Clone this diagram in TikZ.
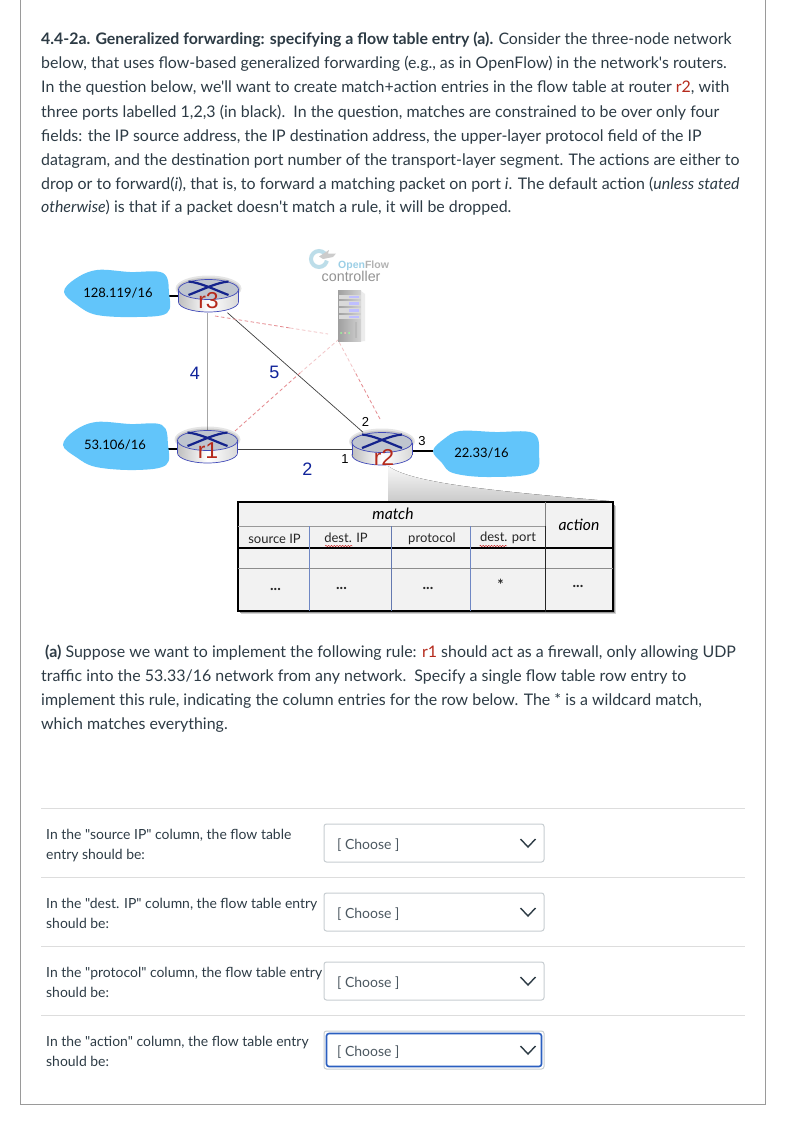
\documentclass[tikz,border=0pt]{standalone}
\usepackage{fontspec}
\newfontfamily\lato{Lato}
\newfontfamily\arial{Liberation Sans}
\usetikzlibrary{backgrounds,decorations.pathmorphing,calc}
\definecolor{bodyc}{HTML}{2D3B45}
\definecolor{rulec}{HTML}{DDDDDD}
\definecolor{framec}{HTML}{9A9A9A}
\definecolor{blobc}{HTML}{62C5FA}
\definecolor{redtx}{HTML}{B52A1C}
\definecolor{numc}{HTML}{10239A}
\definecolor{navy}{HTML}{14238C}
\definecolor{rimc}{HTML}{3F48B8}
\definecolor{dashc}{HTML}{E58A8F}
\definecolor{colc}{HTML}{6F87C4}
\definecolor{tablec}{HTML}{F2F2F2}
\definecolor{selc}{HTML}{C7CDD1}
\definecolor{focusc}{HTML}{2B5FC0}
\definecolor{rtop}{HTML}{BFC5CF}
\definecolor{ofblue}{HTML}{9CCFE6}
\definecolor{ofring}{HTML}{BCDDE9}
\tikzset{
 x=1pt,y=-1pt,
 txt/.style={anchor=base west,inner sep=0pt,text=bodyc,font=\lato\fontsize{15.95}{18}\selectfont},
 txtb/.style={anchor=base west,inner sep=0pt,text=bodyc,font=\lato\fontsize{15.88}{18}\selectfont},
 lab/.style={anchor=base west,inner sep=0pt,text=bodyc,font=\lato\fontsize{13.95}{17}\selectfont},
 choice/.style={anchor=base west,inner sep=0pt,text=bodyc!85,font=\lato\fontsize{14}{17}\selectfont},
 netlab/.style={anchor=center,inner sep=0pt,text=black,font=\lato\fontsize{13}{15}\selectfont},
 numlab/.style={anchor=center,inner sep=0pt,text=numc,font=\arial\fontsize{18}{20}\selectfont},
 portlab/.style={anchor=center,inner sep=0pt,text=black,font=\arial\fontsize{13}{15}\selectfont},
 rname/.style={anchor=center,inner sep=0pt,text=redtx,font=\arial\fontsize{23}{25}\selectfont},
 cell/.style={anchor=center,inner sep=0pt,text=black!85,font=\lato\fontsize{13}{15}\selectfont},
 dots/.style={anchor=center,inner sep=0pt,text=black!85,font=\lato\bfseries\fontsize{15}{15}\selectfont},
 hcell/.style={anchor=center,inner sep=0pt,text=black,font=\lato\itshape\fontsize{15.7}{18}\selectfont},
 routerbox/.style={rectangle,minimum width=60pt,minimum height=33pt,inner sep=0pt},
 blobbox/.style={rectangle,minimum width=105pt,minimum height=47pt,inner sep=0pt},
 selbox/.style={rectangle,draw=selc,line width=1pt,rounded corners=2.5pt,fill=white,minimum width=220pt,minimum height=38pt,inner sep=0pt},
 chev/.style={draw=bodyc,line width=1.4pt,line join=miter},
 thicklink/.style={draw=black,line width=2.2pt},
 ctrl/.style={draw=dashc,line width=.8pt,dash pattern=on 3.5pt off 2.5pt},
 ctrlfade/.style={draw=dashc!50,line width=.8pt,dash pattern=on 3.5pt off 2.5pt},
 squig/.style={draw=red!75!black,line width=.4pt,decorate,decoration={snake,amplitude=.6pt,segment length=2.8pt}},
}
% centre x, centre y of the top ellipse, name, text x offset, text y offset
\newcommand{\routerart}[5]{%
 \begin{scope}[shift={(#1,#2)}]
  \fill[black,opacity=.10] (0,-1) ellipse [x radius=33,y radius=13];
  \fill[black,opacity=.12] (0,-.5) ellipse [x radius=31.5,y radius=11.5];
  \path[left color=gray!50,right color=gray!30,middle color=white] (0,12.5) ellipse [x radius=30,y radius=10];
  \draw[rimc,line width=.7pt] (0,12.5) ellipse [x radius=30,y radius=10];
  \fill[left color=gray!50,right color=gray!30,middle color=white] (-29.6,0) rectangle (29.6,13);
  \draw[rimc,line width=.7pt] (-30,0) -- (-30,12.5) (30,0) -- (30,12.5);
  \fill[rtop] (0,0) ellipse [x radius=30,y radius=10];
  \draw[rimc,line width=.7pt] (0,0) ellipse [x radius=30,y radius=10];
  \draw[navy,line width=2.2pt] (-20,-8) .. controls (-8,-7) and (8,1) .. (20,5.5);
  \draw[navy,line width=2.2pt] (20,-8) .. controls (8,-7) and (-8,1) .. (-20,5.5);
  \node[rname] (#3) at (#4,#5) {#3};
 \end{scope}}
\begin{document}
\begin{tikzpicture}
\useasboundingbox (0,0) rectangle (786,1124);
\coordinate (ftl) at (20.5,0); \coordinate (fbl) at (20.5,1104.5);
\coordinate (fbr) at (765.5,1104.5); \coordinate (ftr) at (765.5,0);
\draw[framec,line width=1pt] (ftl) -- (fbl) -- (fbr) -- (ftr);

% intro text
\node[txtb] (p1) at (41,44.5) {\textbf{4.4-2a. Generalized forwarding: specifying a flow table entry (a).} Consider the three-node network};
\node[txt] (p2) at (41,68.7) {below, that uses flow-based generalized forwarding (e.g., as in OpenFlow) in the network's routers.};
\node[txt] (p3) at (41,92.9) {In the question below, we'll want to create match+action entries in the flow table at router \textcolor{redtx}{r2}, with};
\node[txt] (p4) at (41,117.1) {three ports labelled 1,2,3 (in black).\ \ In the question, matches are constrained to be over only four};
\node[txt] (p5) at (41,141.3) {fields: the IP source address, the IP destination address, the upper-layer protocol field of the IP};
\node[txt] (p6) at (41,165.5) {datagram, and the destination port number of the transport-layer segment. The actions are either to};
\node[txt] (p7) at (41,189.7) {drop or to forward(\textit{i}), that is, to forward a matching packet on port \textit{i}. The default action (\textit{unless stated}};
\node[txt] (p8) at (41,212.5) {\textit{otherwise}) is that if a packet doesn't match a rule, it will be dropped.};

% clouds
\fill[blobc] plot[smooth cycle,tension=.6] coordinates {(64,292) (75,279) (97,270) (130,272) (163,273) (169,293) (167,313) (137,317) (97,315) (77,305)};
\fill[blobc] plot[smooth cycle,tension=.6] coordinates {(63,445) (74,431) (96,422) (130,424) (162,425) (168,445) (166,465) (136,470) (96,467) (76,457)};
\fill[blobc] plot[smooth cycle,tension=.6] coordinates {(433,451) (444,439) (460,431) (495,432) (533,433) (539,453) (533,473) (487,477) (453,473) (442,463)};
\node[blobbox] (n128) at (116.5,293.5) {};
\node[blobbox] (n53) at (115.5,446) {};
\node[blobbox] (n22) at (485.5,454) {};
\node[netlab] (t128) at (118,293.5) {128.119/16};
\node[netlab] (t53) at (115,445.5) {53.106/16};
\node[netlab] (t22) at (481.5,453) {22.33/16};

% routers
\routerart{208.5}{289.5}{r3}{0}{11}
\routerart{207.5}{440.5}{r1}{0.5}{10.5}
\routerart{382}{442.5}{r2}{2}{14.5}
\node[routerbox] (b3) at (208.5,296) {};
\node[routerbox] (b1) at (207.5,449) {};
\node[routerbox] (b2) at (382,449) {};

% server
\fill[gray!15] (361,291) -- (365,294) -- (365,341) -- (361,341.5) -- cycle;
\node[rectangle,minimum width=23pt,minimum height=51pt,inner sep=0pt,left color=gray!75,right color=gray!35] (srv) at (349.5,316) {};
\foreach \yy in {297,303.5,310.5,317} {
  \fill[gray!30] (339,\yy-2.2) rectangle (361,\yy+2.2);
  \fill[blue!25!white] (349,\yy-1.2) rectangle (359,\yy+1.2);
}
\fill[gray!55] (355,322) rectangle (357,338);
\fill[green!40!white] (341,333) circle (1);
\fill[red!25!white] (345,333) circle (1);
\fill[green!40!white] (349,333) circle (1);

% controller logo
\draw[ofring,line width=4pt] (319,259) circle (8);
\fill[white] (320,258) -- (334,250) -- (334,263) -- cycle;
\fill[gray!40] (319,256.5) -- (329,250) -- (328,253.5) -- (336,253.5) -- (333,257) -- (323,259) -- cycle;
\node[anchor=base west,inner sep=0pt,font=\arial\bfseries\fontsize{10.5}{12}\selectfont] (ofl) at (338,268.5) {\textcolor{ofblue}{Open}\textcolor{gray!60}{Flow}};
\node[anchor=base west,inner sep=0pt,text=gray!85,font=\arial\fontsize{14.3}{16}\selectfont] (ctl) at (321.5,281) {controller};

% link labels
\node[numlab] (l4) at (195,373.5) {4};
\node[numlab] (l5) at (274.5,372) {5};
\node[numlab] (l2) at (307.5,469) {2};
\node[portlab] (p2a) at (365.5,422) {2};
\node[portlab] (p2b) at (345,459) {1};
\node[portlab] (p2c) at (422,441) {3};

% flow table
\fill[black!18] (241,506) rectangle (616,614);
\fill[black!40] (240,505) rectangle (615,613);
\node[rectangle,draw=black,line width=1.5pt,fill=tablec,minimum width=375pt,minimum height=109pt,inner sep=0pt] (tbl) at (425.5,556.5) {};
\draw[gray!80,line width=.8pt] (238,526) -- (545,526);
\draw[black,line width=1.3pt] (238,548) -- (613,548);
\draw[gray!90,line width=.8pt] (238,568) -- (613,568);
\draw[colc,line width=.8pt] (309.5,526) -- (309.5,611);
\draw[colc!90!black,line width=1pt] (391.5,526) -- (391.5,611);
\draw[colc,line width=.8pt] (470.5,526) -- (470.5,611);
\draw[gray,line width=.8pt] (545,502) -- (545,526);
\draw[black!85,line width=.9pt] (545,526) -- (545,612);
\node[hcell] (hm) at (393,514) {match};
\node[hcell] (ha) at (579,524.5) {action};
\node[cell] (c1) at (274.5,539) {source IP};
\node[cell] (c2) at (346,538) {dest. IP};
\node[cell] (c3) at (432,538.5) {protocol};
\node[cell] (c4) at (508,538) {dest. port};
\draw[squig] (325,546) -- (352.5,546);
\draw[squig] (479.5,546) -- (507,546);
\node[dots] (d1) at (275.5,589) {...};
\node[dots] (d2) at (341.5,588) {...};
\node[dots] (d3) at (428,588) {...};
\node[dots] (d4) at (500.5,585) {*};
\node[dots] (d5) at (578,586) {...};

% question text
\node[txt] (q1) at (45,657) {\textbf{(a)} Suppose we want to implement the following rule: \textcolor{redtx}{r1} should act as a firewall, only allowing UDP};
\node[txt] (q2) at (41,681) {traffic into the 53.33/16 network from any network.\ \ Specify a single flow table row entry to};
\node[txt] (q3) at (41,705) {implement this rule, indicating the column entries for the row below. The * is a wildcard match,};
\node[txt] (q4) at (41,729) {which matches everything.};

% form rows
\foreach \yy/\nm in {808/a,877/b,946/c,1015/d} {
  \coordinate (s\nm l) at (41,\yy.5); \coordinate (s\nm r) at (745,\yy.5);
  \draw[rulec,line width=1pt] (s\nm l) -- (s\nm r);
}
\node[lab] (f1a) at (46,839) {In the "source IP" column, the flow table};
\node[lab] (f1b) at (46,859) {entry should be:};
\node[lab] (f2a) at (46,908) {In the "dest. IP" column, the flow table entry};
\node[lab] (f2b) at (46,928) {should be:};
\node[lab] (f3a) at (46,977) {In the "protocol" column, the flow table entry};
\node[lab] (f3b) at (46,997) {should be:};
\node[lab] (f4a) at (46,1046) {In the "action" column, the flow table entry};
\node[lab] (f4b) at (46,1066) {should be:};
\node[selbox] (s1) at (434,843) {};
\node[selbox] (s2) at (434,912) {};
\node[selbox] (s3) at (434,981) {};
\node[selbox] (s4) at (434,1050) {};
\draw[focusc,line width=1.6pt,rounded corners=2.5pt] (326.5,1033.5) rectangle (541.5,1066.5);
\foreach \s/\yy in {s1/843,s2/912,s3/981,s4/1050} {
  \node[choice] (ch\s) at (337,\yy+6) {[ Choose ]};
  \draw[chev] (520.5,\yy-4) -- (528,\yy+4) -- (535.5,\yy-4);
}

% connectors, behind the routers
\begin{pgfonlayer}{background}
  \fill[white] (0,0) rectangle (786,1124);
  \fill[top color=gray!6,bottom color=gray!42] (388,466) .. controls (410,482) and (480,490) .. (609,501) -- (388,502) -- cycle;
  \draw[gray!70,line width=.8pt] (b3.south -| 207,0) -- (b1.north -| 207,0);
  \draw[black!75,line width=.7pt] (b3) -- (b2);
  \draw[black!75,line width=.7pt] (b1) -- (b2);
  \draw[thicklink] (n128.east |- b3) -- (b3.west);
  \draw[thicklink] (n53.east |- b1) -- (b1.west);
  \draw[thicklink] ([yshift=-2pt]b2.east) -- ([yshift=-2pt]n22.west |- b2);
  \coordinate (h3) at (215,316); \coordinate (m3) at (290,328);
  \coordinate (h1) at (235,431); \coordinate (m1) at (300,373);
  \coordinate (h2) at (380,419); \coordinate (m2) at (355,372);
  \coordinate (sv) at (338,340);
  \draw[ctrl] (h3) -- (m3); \draw[ctrlfade] (m3) -- (328,334);
  \draw[ctrl] (h1) -- (m1); \draw[ctrlfade] (m1) -- (sv);
  \draw[ctrl] (h2) -- (m2); \draw[ctrlfade] (m2) -- (sv);
\end{pgfonlayer}
\end{tikzpicture}
\end{document}
